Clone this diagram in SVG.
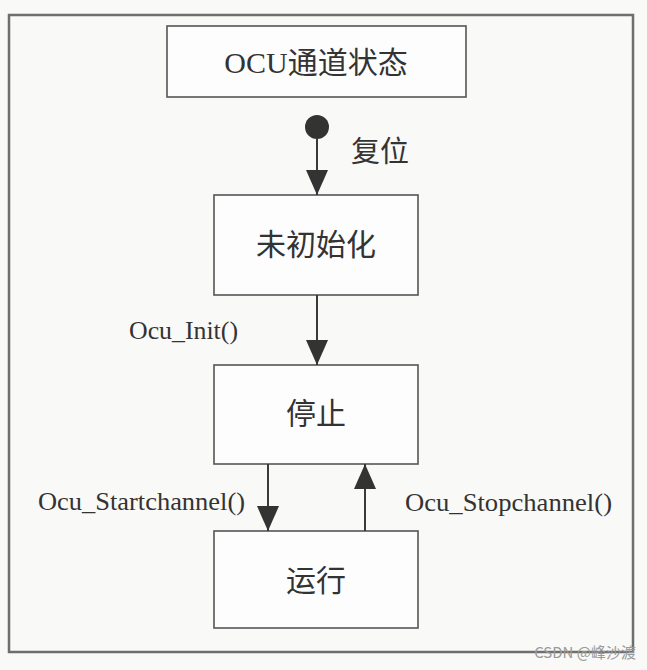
<svg xmlns="http://www.w3.org/2000/svg" width="647" height="670" viewBox="0 0 647 670">
<defs>
<style>
.frame{fill:none;stroke:#6e6e6e;stroke-width:2.5}
.box{fill:#fdfdfd;stroke:#555;stroke-width:1.6}
.cn{font-family:"Liberation Serif","Noto Sans CJK SC",serif;font-size:30px;fill:#333;text-anchor:middle;dominant-baseline:central}
.lbl{font-family:"Liberation Serif","Noto Sans CJK SC",serif;font-size:25px;fill:#333}
.edge{stroke:#3a3a3a;stroke-width:2;fill:none}
.wm{font-family:"Noto Sans CJK SC",sans-serif;font-size:15px;fill:#9a9a9a;text-anchor:end}
</style>
<marker id="ah" markerUnits="userSpaceOnUse" markerWidth="26" markerHeight="22" refX="25" refY="11" orient="auto">
<path d="M0,0 L25,11 L0,22 z" fill="#333"/>
</marker>
</defs>
<rect x="0" y="0" width="647" height="670" fill="#f9f9f7"/>
<rect class="frame" x="9" y="15" width="624" height="637" fill="#fbfbfa"/>
<g id="title">
<rect class="box" x="167" y="26" width="299" height="71"/>
<text class="cn" x="316" y="62">OCU通道状态</text>
</g>
<g id="start">
<circle cx="317" cy="127" r="12" fill="#333"/>
</g>
<g id="uninit">
<rect class="box" x="214" y="195" width="204" height="100"/>
<text class="cn" x="316" y="244">未初始化</text>
</g>
<g id="stopped">
<rect class="box" x="214" y="365" width="204" height="99"/>
<text class="cn" x="316" y="413">停止</text>
</g>
<g id="running">
<rect class="box" x="214" y="531" width="204" height="97"/>
<text class="cn" x="316" y="580">运行</text>
</g>
<g id="connectors">
<line class="edge" x1="317" y1="139" x2="317" y2="195" marker-end="url(#ah)"/>
<text class="cn" x="380" y="152" style="font-size:29px">复位</text>
<line class="edge" x1="317" y1="295" x2="317" y2="365" marker-end="url(#ah)"/>
<text class="lbl" x="129" y="339" textLength="109" lengthAdjust="spacingAndGlyphs">Ocu_Init()</text>
<line class="edge" x1="268" y1="464" x2="268" y2="531" marker-end="url(#ah)"/>
<text class="lbl" x="38" y="510" textLength="207" lengthAdjust="spacingAndGlyphs">Ocu_Startchannel()</text>
<line class="edge" x1="365" y1="531" x2="365" y2="464" marker-end="url(#ah)"/>
<text class="lbl" x="405" y="511" textLength="207" lengthAdjust="spacingAndGlyphs">Ocu_Stopchannel()</text>
</g>
<text class="wm" x="636" y="658">CSDN @峰沙渡</text>
</svg>
